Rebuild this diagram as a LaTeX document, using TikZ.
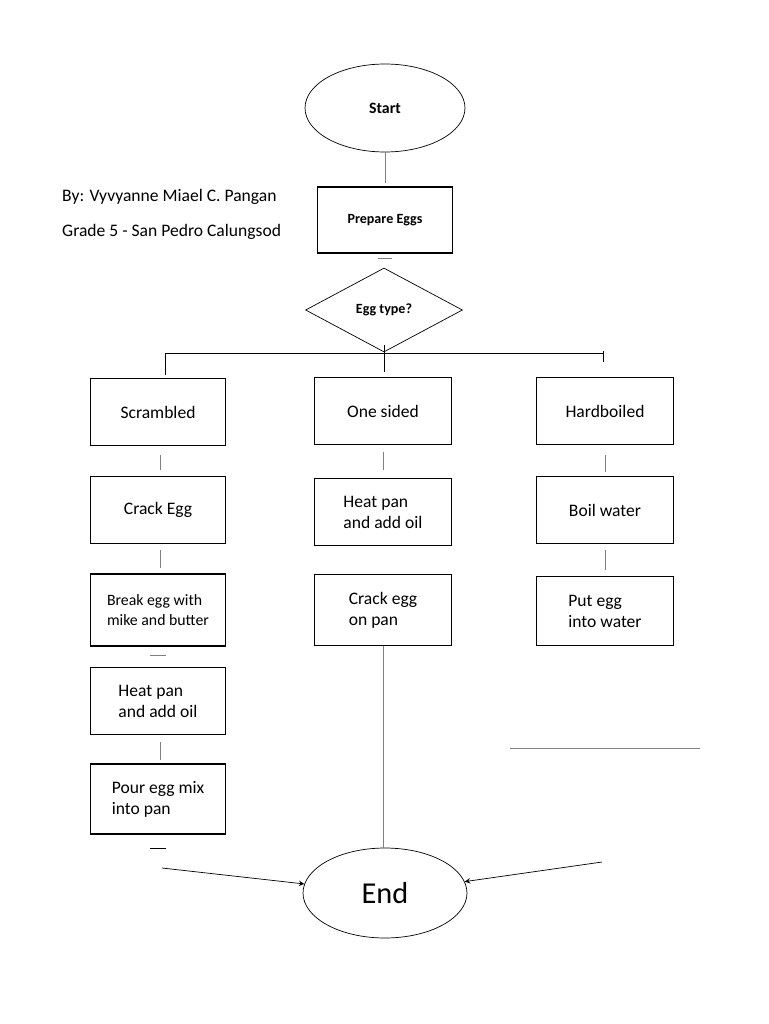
\documentclass[tikz,border=0pt]{standalone}
\usepackage{fontspec}
\setmainfont{Carlito}
\usetikzlibrary{shapes.geometric}
\tikzset{
  box/.style={draw, thick, minimum width=2.7cm, minimum height=1.34cm, align=left, font=\normalsize},
  tick/.style={draw=gray, thin},
}
\begin{document}
\begin{tikzpicture}[x=0.02cm,y=-0.02cm]
\useasboundingbox (0,0) rectangle (768,1024);

\node[draw, ellipse, minimum width=3.2cm, minimum height=1.76cm, font=\bfseries\small] (start) at (385,108) {Start};
\node[draw, thick, minimum width=2.7cm, minimum height=1.32cm, font=\bfseries\footnotesize] (prep) at (385,220) {Prepare Eggs};
\node[draw, diamond, aspect=1.9, minimum width=3.14cm, minimum height=1.68cm, inner sep=0pt, font=\bfseries\footnotesize] (type) at (384,310) {Egg type?};

\node[anchor=west, font=\normalsize] (by) at (56,197) {By: Vyvyanne Miael C. Pangan};
\node[anchor=west, font=\normalsize] (grade) at (56,232) {Grade 5 - San Pedro Calungsod};

% scrambled
\node[box] (scr) at (158,412) {Scrambled};
\node[box] (crk) at (158,510) {Crack Egg};
\node[box, minimum height=1.44cm, font=\small] (brk) at (158,610) {Break egg with\\mike and butter};
\node[box] (hp1) at (158,701) {Heat pan\\ and add oil};
\node[box, minimum height=1.4cm] (pour) at (158,799) {Pour egg mix\\into pan};

% one sided
\node[box, minimum width=2.74cm] (one) at (383,411) {One sided};
\node[box, minimum width=2.74cm] (hp2) at (383,512) {Heat pan\\and add oil};
\node[box, minimum width=2.74cm, minimum height=1.42cm] (crk2) at (383,610) {Crack egg\\on pan};

% hardboiled
\node[box, minimum width=2.74cm] (hard) at (605,411) {Hardboiled};
\node[box, minimum width=2.74cm] (boil) at (605,510) {Boil water};
\node[box, minimum width=2.74cm, minimum height=1.38cm] (put) at (605,611) {Put egg\\into water};

\node[draw, ellipse, minimum width=3.28cm, minimum height=1.8cm, font=\LARGE] (end) at (385,893) {End};

% connectors
\draw[tick] (start) -- (385,183);
\draw[tick] (378,258) -- (392,258);
\draw (165,353) -- (603,353);
\draw (165,353) -- (165,375);
\draw (384,345) -- (384,372);
\draw (603,351) -- (603,362);
\foreach \x/\a/\b in {160/455/470, 383/452/470, 605/455/472, 160/550/568, 605/550/570, 160/742/760}
  \draw[tick] (\x,\a) -- (\x,\b);
\draw[tick] (150,655) -- (166,655);
\draw (150,848) -- (166,848);
\draw[tick] (crk2) -- (383,848);
\draw[gray] (510,748) -- (700,748);

\coordinate (l) at (162,868);
\coordinate (r) at (602,862);
\draw[->, >=stealth] (l) -- (end);
\draw[->, >=stealth] (r) -- (end);
\end{tikzpicture}
\end{document}
